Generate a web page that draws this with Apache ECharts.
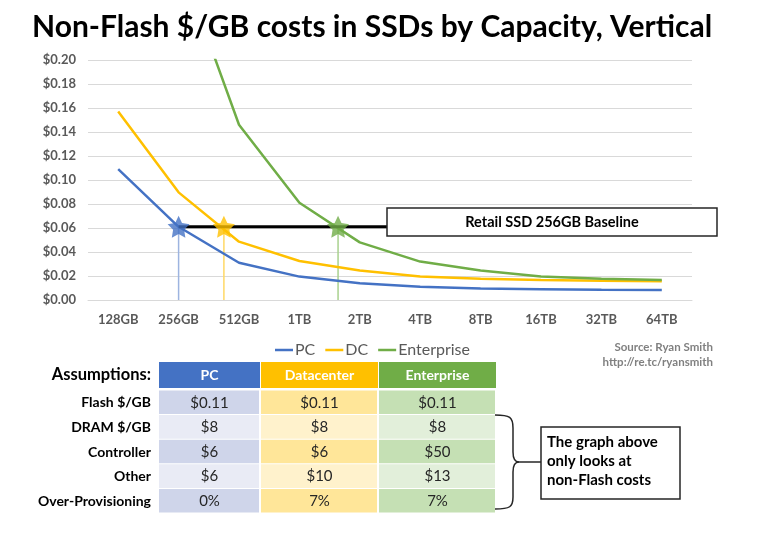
<!DOCTYPE html>
<html>
<head>
<meta charset="utf-8">
<script src="https://cdn.jsdelivr.net/npm/echarts@6/dist/echarts.min.js"></script>
<style>
html,body{margin:0;padding:0;background:#fff;}
#chart{width:768px;height:542px;}
</style>
</head>
<body>
<div id="chart"></div>
<script>
// capacity points on the x axis
var capacities = ['128GB', '256GB', '512GB', '1TB', '2TB', '4TB', '8TB', '16TB', '32TB', '64TB'];
// non-flash $/GB
var pcCost  = [0.109, 0.061, 0.031, 0.0195, 0.014, 0.011, 0.0095, 0.009, 0.0085, 0.0083];
var dcCost  = [0.157, 0.0897, 0.0486, 0.0325, 0.0245, 0.0195, 0.0178, 0.0167, 0.016, 0.0156];
var entCost = [0.52, 0.285, 0.146, 0.081, 0.048, 0.032, 0.0245, 0.0195, 0.0178, 0.0167];
var yTicks = [0, 0.02, 0.04, 0.06, 0.08, 0.10, 0.12, 0.14, 0.16, 0.18, 0.20];

// retail 256GB baseline and where each curve crosses it (in category units)
var baseline = 0.061;
var crossAt = [1, 1.75, 3.64];
var baselineEnd = 4.45;

// assumptions table
var colNames  = ['PC', 'Datacenter', 'Enterprise'];
var rowNames  = ['Flash $/GB', 'DRAM $/GB', 'Controller', 'Other', 'Over-Provisioning'];
var pcAssume  = ['$0.11', '$8', '$6', '$6', '0%'];
var dcAssume  = ['$0.11', '$8', '$6', '$10', '7%'];
var entAssume = ['$0.11', '$8', '$50', '$13', '7%'];

var FONT = 'Lato';
var colors = ['#4472C4', '#FFC000', '#70AD47'];
var dropColors = ['#9DB4E0', '#FFD966', '#A9D18E'];
var darkCell = ['#CFD5EA', '#FFE699', '#C5E0B4'];
var lightCell = ['#E9EBF5', '#FFF2CC', '#E2EFDA'];
var starPath = 'path://M50,0 L64.7,29.8 L97.6,34.5 L73.8,57.7 L79.4,90.5 L50,75 L20.6,90.5 L26.2,57.7 L2.4,34.5 L35.3,29.8 Z';

var chart = echarts.init(document.getElementById('chart'));

// ---- table + annotations as graphic elements
var g = [];
var colX = [159, 261, 379], colW = [101, 117, 117];
var headY = 362, headH = 26, rowY0 = 390.5, rowH = 24.6;
var cols = [pcAssume, dcAssume, entAssume];

g.push({type: 'text', style: {text: 'Assumptions:', x: 151, y: headY + headH / 2, textAlign: 'right', textVerticalAlign: 'middle',
	font: 'bold 16.5px ' + FONT, fill: '#000'}});
for (var c = 0; c < 3; c++) {
	g.push({type: 'rect', shape: {x: colX[c], y: headY, width: colW[c], height: headH}, style: {fill: colors[c]}});
	g.push({type: 'text', style: {text: colNames[c], x: colX[c] + colW[c] / 2, y: headY + headH / 2, textAlign: 'center',
		textVerticalAlign: 'middle', font: 'bold 14px ' + FONT, fill: '#fff'}});
}
for (var r = 0; r < rowNames.length; r++) {
	var y = rowY0 + r * rowH;
	g.push({type: 'text', style: {text: rowNames[r], x: 151, y: y + rowH / 2, textAlign: 'right', textVerticalAlign: 'middle',
		font: 'bold 14px ' + FONT, fill: '#000'}});
	for (var c2 = 0; c2 < 3; c2++) {
		g.push({type: 'rect', shape: {x: colX[c2], y: y, width: colW[c2] - 1, height: rowH - 1},
			style: {fill: r % 2 == 0 ? darkCell[c2] : lightCell[c2]}});
		g.push({type: 'text', style: {text: cols[c2][r], x: colX[c2] + colW[c2] / 2, y: y + rowH / 2, textAlign: 'center',
			textVerticalAlign: 'middle', font: '15px ' + FONT, fill: '#262626'}});
	}
}
// curly brace + note box
var braceStyle = {stroke: '#262626', lineWidth: 1.5, fill: null};
[[495, 415, 510, 415, 513, 417, 513, 428],
 [513, 452, 513, 459, 515, 462, 519, 462],
 [519, 462, 515, 462, 513, 465, 513, 472],
 [513, 497, 513, 507, 510, 509, 495, 509]].forEach(function (b) {
	g.push({type: 'bezierCurve', shape: {x1: b[0], y1: b[1], cpx1: b[2], cpy1: b[3], cpx2: b[4], cpy2: b[5], x2: b[6], y2: b[7]},
		style: braceStyle});
});
[[513, 428, 513, 452], [513, 472, 513, 497], [519, 462, 541, 462]].forEach(function (l) {
	g.push({type: 'line', shape: {x1: l[0], y1: l[1], x2: l[2], y2: l[3]}, style: braceStyle});
});
g.push({type: 'rect', shape: {x: 541, y: 427, width: 139, height: 72}, style: {fill: '#fff', stroke: '#262626', lineWidth: 1.5}});
g.push({type: 'text', style: {text: 'The graph above\nonly looks at\nnon-Flash costs', x: 547, y: 433, lineHeight: 19,
	font: 'bold 15px ' + FONT, fill: '#000'}});
// baseline label box
g.push({type: 'rect', z: 10, shape: {x: 387, y: 208, width: 330, height: 28}, style: {fill: '#fff', stroke: '#262626', lineWidth: 1.5}});
g.push({type: 'text', z: 11, style: {text: 'Retail SSD 256GB Baseline', x: 552, y: 222, textAlign: 'center', textVerticalAlign: 'middle',
	font: 'bold 14.5px ' + FONT, fill: '#000'}});
// source
g.push({type: 'text', style: {text: 'Source: Ryan Smith', x: 713, y: 347, textAlign: 'right', textVerticalAlign: 'middle',
	font: 'bold 11.5px ' + FONT, fill: '#808080'}});
g.push({type: 'text', style: {text: 'http://re.tc/ryansmith', x: 713, y: 362, textAlign: 'right', textVerticalAlign: 'middle',
	font: 'bold 11.5px ' + FONT, fill: '#808080'}});

// ---- series
var series = [
	{name: 'PC', type: 'line', data: pcCost, color: colors[0]},
	{name: 'DC', type: 'line', data: dcCost, color: colors[1]},
	{name: 'Enterprise', type: 'line', data: entCost, color: colors[2]}
];
series.forEach(function (s) {
	s.symbol = 'none';
	s.lineStyle = {width: 2.5};
	s.z = 3;
});
// drop lines from each crossing
crossAt.forEach(function (x, i) {
	series.push({type: 'line', xAxisIndex: 1, symbol: 'none', silent: true, z: 2,
		data: [[x, 0], [x, baseline]], lineStyle: {color: dropColors[i], width: 1.5}});
});
// baseline
series.push({type: 'line', xAxisIndex: 1, symbol: 'none', silent: true, z: 4,
	data: [[crossAt[0], baseline], [baselineEnd, baseline]], lineStyle: {color: '#000', width: 3}});
// stars
series.push({type: 'scatter', xAxisIndex: 1, symbol: starPath, symbolSize: 22, z: 5,
	data: crossAt.map(function (x, i) {
		return {value: [x, baseline], itemStyle: {color: colors[i]}};
	})});

var option = {
	animation: false,
	title: {
		text: 'Non-Flash $/GB costs in SSDs by Capacity, Vertical',
		left: 27, top: 7,
		textStyle: {fontFamily: FONT, fontSize: 30, fontWeight: 'bold', color: '#000'}
	},
	legend: {
		data: ['PC', 'DC', 'Enterprise'],
		left: 270, top: 337,
		icon: 'rect', itemWidth: 18, itemHeight: 2.5, itemGap: 10,
		textStyle: {fontFamily: FONT, fontSize: 16, color: '#595959', padding: [0, 0, 0, -3]}
	},
	grid: {left: 88, right: 76, top: 60, bottom: 242, containLabel: false},
	xAxis: [{
		type: 'category',
		data: capacities,
		boundaryGap: true,
		axisTick: {show: false},
		axisLine: {lineStyle: {color: '#D9D9D9'}},
		axisLabel: {margin: 13, fontFamily: FONT, fontSize: 13, fontWeight: 'bold', color: '#595959', interval: 0}
	}, {
		type: 'value', min: -0.5, max: 9.5, show: false
	}],
	yAxis: {
		type: 'value',
		min: yTicks[0], max: yTicks[yTicks.length - 1], interval: 0.02,
		axisLine: {show: false},
		axisTick: {show: false},
		splitLine: {lineStyle: {color: '#D9D9D9', width: 1}},
		axisLabel: {margin: 12, fontFamily: FONT, fontSize: 13, fontWeight: 'bold', color: '#595959',
			formatter: function (v) { return '$' + v.toFixed(2); }}
	},
	graphic: g,
	series: series
};
chart.setOption(option);
</script>
</body>
</html>
